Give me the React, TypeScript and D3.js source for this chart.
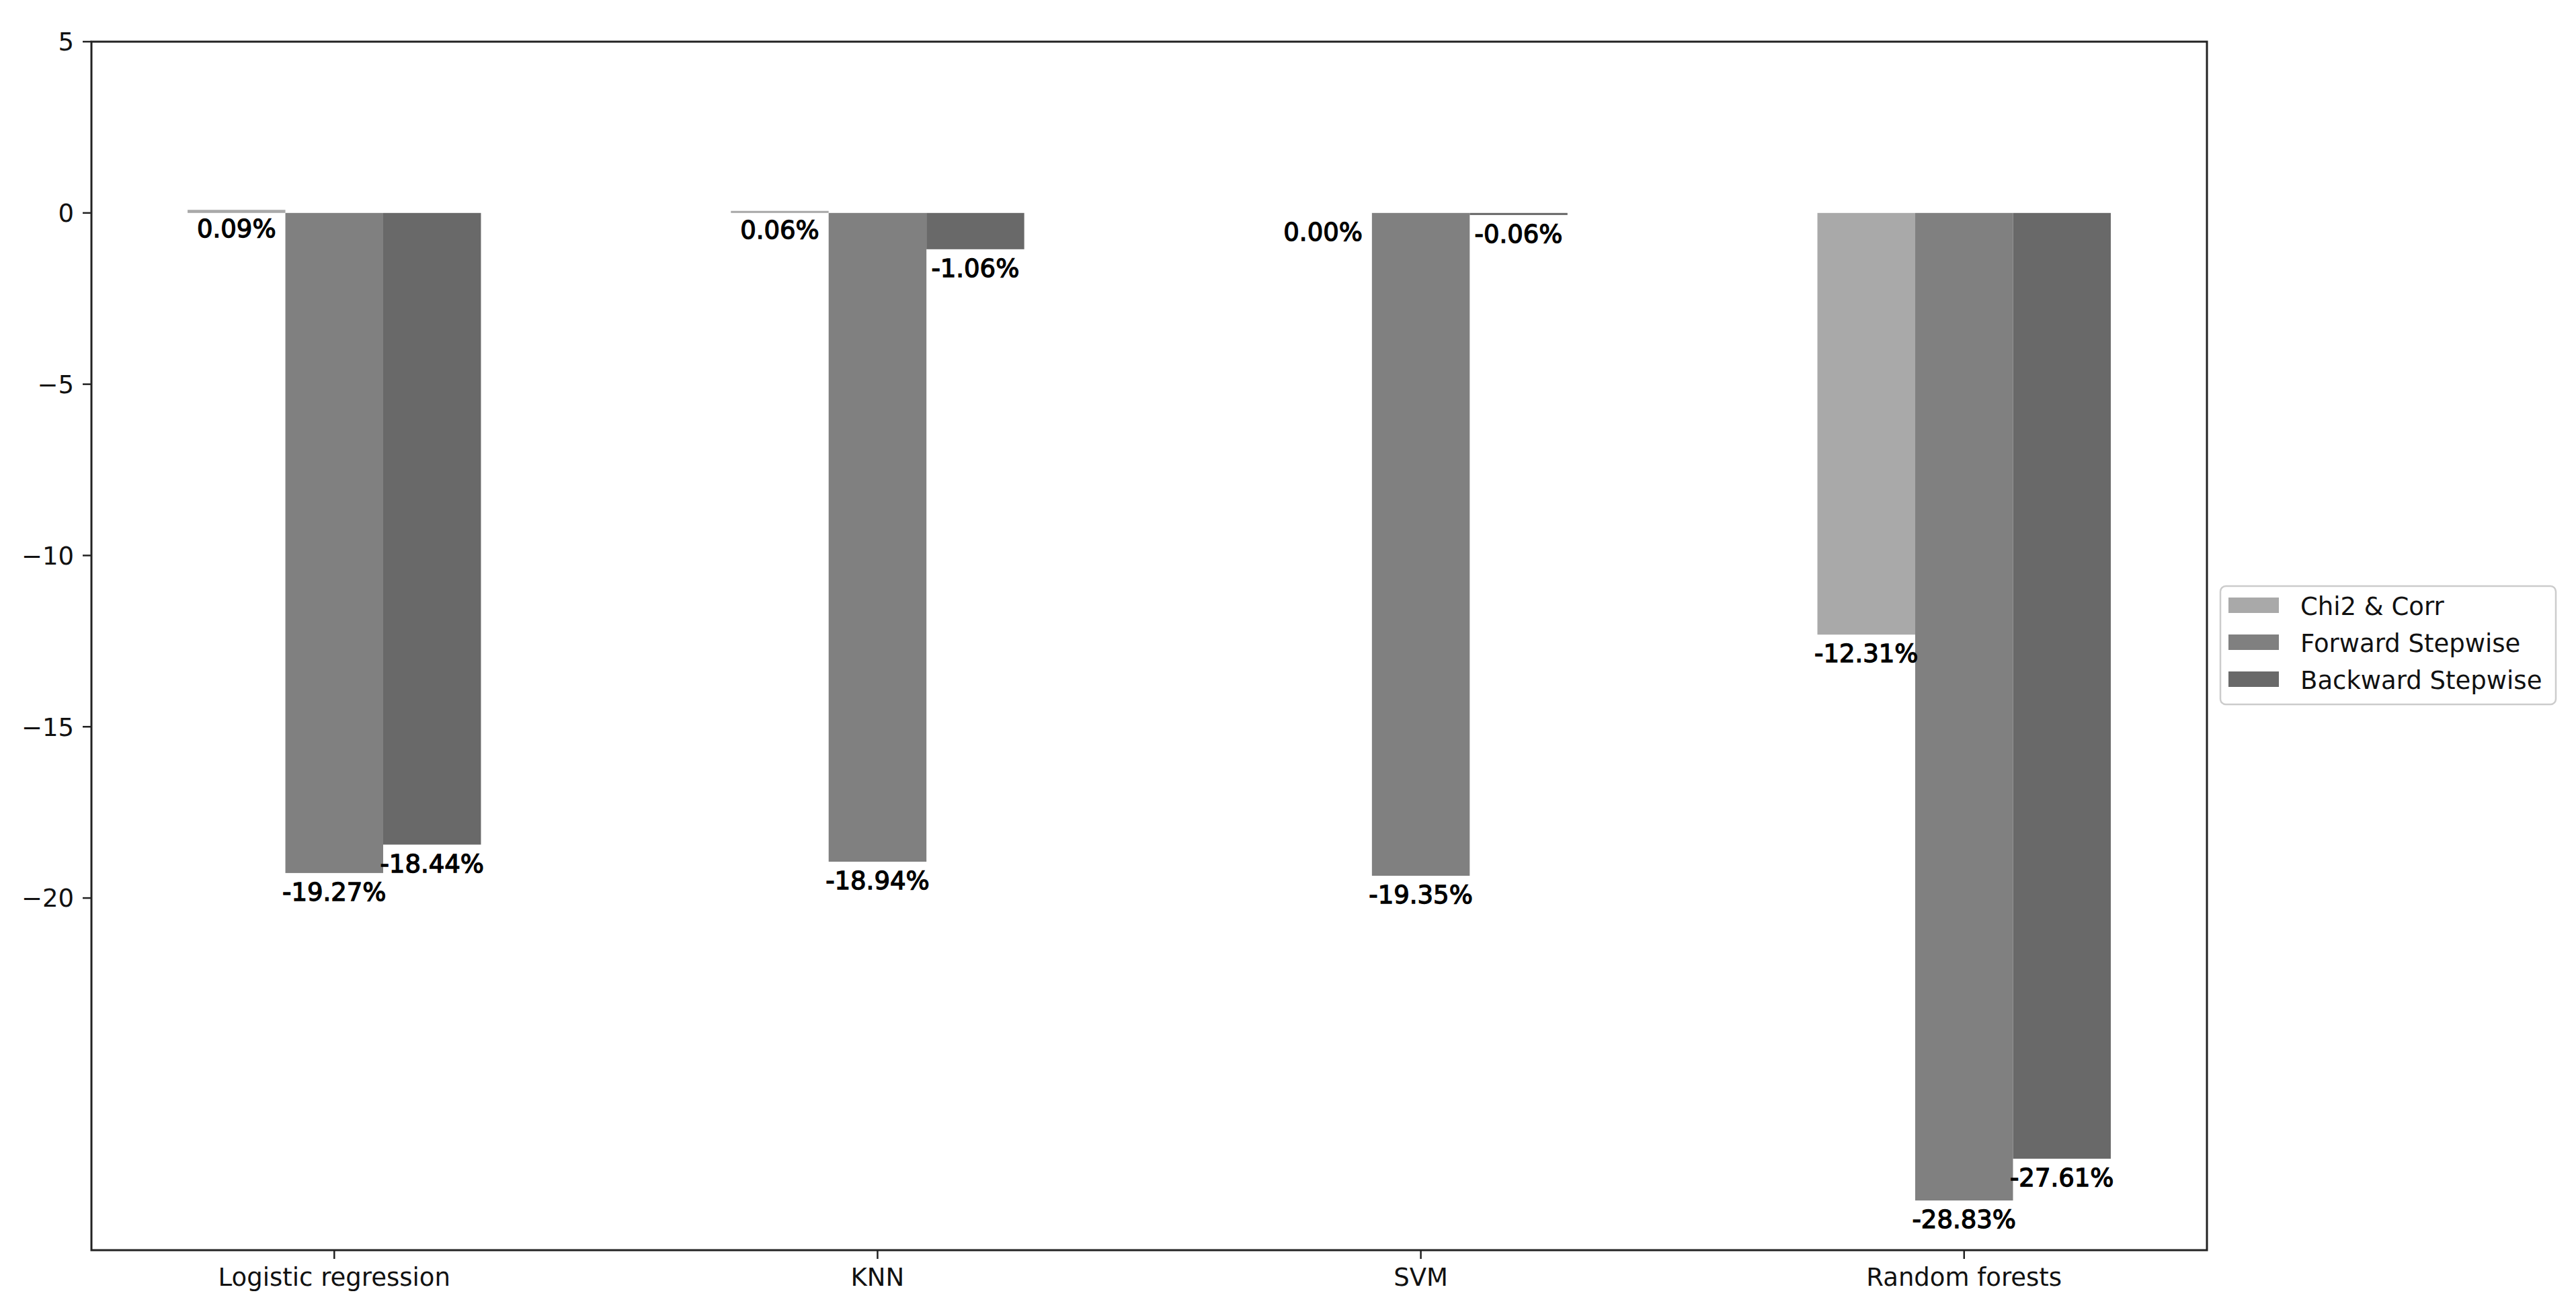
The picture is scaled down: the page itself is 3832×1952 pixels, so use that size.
import React from 'react';
import * as d3 from 'd3';

// models on the x axis
const categories = ['Logistic regression', 'KNN', 'SVM', 'Random forests'];
const seriesNames = ['Chi2 & Corr', 'Forward Stepwise', 'Backward Stepwise'];
const seriesColors = ['#a9a9a9', '#808080', '#696969'];

// change in % per model
const chi2Corr = [0.09, 0.06, 0.0, -12.31];
const forwardStepwise = [-19.27, -18.94, -19.35, -28.83];
const backwardStepwise = [-18.44, -1.06, -0.06, -27.61];

const yTicks = [5, 0, -5, -10, -15, -20];

const W = 3832, H = 1952;
const FONT = '"DejaVu Sans", "Liberation Sans", sans-serif';
const FS = 37;
const barWidth = 0.18;

export default function App() {
  const series = [chi2Corr, forwardStepwise, backwardStepwise];

  const x = d3.scaleLinear().domain([-0.447, 3.447]).range([136, 3283]);
  const y = d3.scaleLinear().domain([-30.28, 5]).range([1860, 62]);
  const [left, right] = x.range();
  const [bottom, top] = y.range();
  // plain hyphen, like the labels in the original
  const fmt = (v: number) => v.toFixed(2) + '%';

  return (
    <svg width={W} height={H} style={{ position: 'absolute', left: 0, top: 0, background: '#fff' }}
      fontFamily={FONT}>
      <rect width={W} height={H} fill="#fff" />

      {series.map((vals, si) => (
        <g key={si}>
          {vals.map((v, ci) => {
            const cx = ci + (si - 1) * barWidth;
            const x0 = x(cx - barWidth / 2), x1 = x(cx + barWidth / 2);
            const yTop = y(Math.max(v, 0)), yBot = y(Math.min(v, 0));
            return (
              <rect key={ci} x={x0} y={yTop} width={x1 - x0} height={Math.max(yBot - yTop, 0)}
                fill={seriesColors[si]} />
            );
          })}
        </g>
      ))}

      {series.map((vals, si) => (
        <g key={'l' + si}>
          {vals.map((v, ci) => {
            const cx = ci + (si - 1) * barWidth;
            return (
              <text key={ci} x={x(cx)} y={y(v) + 41} textAnchor="middle" fontSize={FS}
                fill="#000" stroke="#000" strokeWidth={1.3}>
                {fmt(v)}
              </text>
            );
          })}
        </g>
      ))}

      {/* spines */}
      <rect x={left} y={top} width={right - left} height={bottom - top} fill="none"
        stroke="#222" strokeWidth={3} />

      {/* y axis */}
      {yTicks.map(t => (
        <g key={t}>
          <line x1={left - 13} x2={left} y1={y(t)} y2={y(t)} stroke="#222" strokeWidth={2.5} />
          <text x={110} y={y(t)} dy="0.36em" textAnchor="end" fontSize={FS} fill="#111">
            {t < 0 ? '\u2212' + Math.abs(t) : String(t)}
          </text>
        </g>
      ))}

      {/* x axis */}
      {categories.map((c, ci) => (
        <g key={c}>
          <line x1={x(ci)} x2={x(ci)} y1={bottom} y2={bottom + 13} stroke="#222" strokeWidth={2.5} />
          <text x={x(ci)} y={1913} textAnchor="middle" fontSize={FS} fill="#111">{c}</text>
        </g>
      ))}

      {/* legend */}
      <g>
        <rect x={3303} y={872} width={499} height={176} rx={8} fill="#fff" stroke="#cccccc"
          strokeWidth={2.5} />
        {seriesNames.map((n, i) => (
          <g key={n}>
            <rect x={3315} y={889 + i * 55} width={75} height={23} fill={seriesColors[i]} />
            <text x={3422} y={915 + i * 55} fontSize={FS} fill="#111">{n}</text>
          </g>
        ))}
      </g>
    </svg>
  );
}
